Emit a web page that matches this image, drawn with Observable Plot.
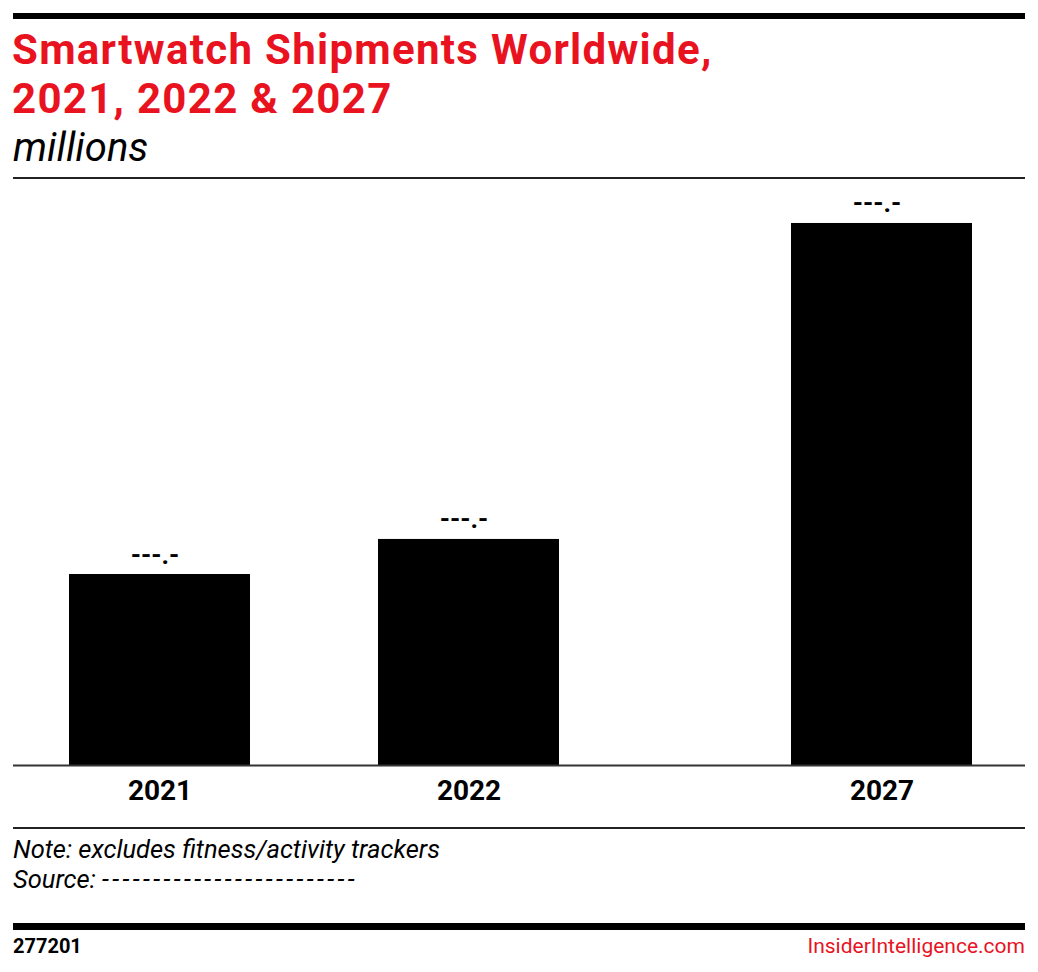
<!DOCTYPE html>
<html>
<head>
<meta charset="utf-8">
<script src="https://cdn.jsdelivr.net/npm/d3@7"></script>
<script src="https://cdn.jsdelivr.net/npm/@observablehq/plot@0.6"></script>
<style>
  html, body { margin: 0; padding: 0; background: #fff; }
  #page { position: relative; width: 1038px; height: 972px; font-family: Roboto, "Noto Sans", sans-serif; color: #000; overflow: hidden; }
  .abs { position: absolute; }
  .bar { position: absolute; left: 13px; width: 1012px; background: #000; }
  .title { left: 12px; font-size: 42px; line-height: 49px; height: 49px; font-weight: 700; color: #e8131f; white-space: nowrap; letter-spacing: 1.3px; }
  #subtitle { left: 13px; top: 126px; font-size: 40px; line-height: 44px; font-style: italic; font-weight: 400; }
  #note { left: 13px; top: 834px; font-size: 25.5px; line-height: 30px; font-style: italic; font-weight: 400; white-space: nowrap; }
  #note .dash { letter-spacing: 3.4px; }
  #id { left: 13px; top: 934px; font-size: 20px; line-height: 24px; font-weight: 700; }
  #brand { right: 13px; top: 933px; font-size: 21px; line-height: 26px; color: #e8131f; }
  #chart { left: 0; top: 179px; }
</style>
</head>
<body>
<div id="page">
  <div class="bar" style="top:13px;height:6px;"></div>
  <div class="abs title" style="top:25px;">Smartwatch Shipments Worldwide,</div>
  <div class="abs title" style="top:74px;">2021, 2022 &amp; 2027</div>
  <div id="subtitle" class="abs">millions</div>
  <div class="bar" style="top:177px;height:2px;background:#222;"></div>
  <div id="chart" class="abs"></div>
  <div class="bar" style="top:827px;height:2px;background:#222;"></div>
  <div id="note" class="abs">Note: excludes fitness/activity trackers<br>Source: <span class="dash">-------------------------</span></div>
  <div class="bar" style="top:923px;height:7px;"></div>
  <div id="id" class="abs">277201</div>
  <div id="brand" class="abs">InsiderIntelligence.com</div>
</div>
<script>
// Data (labels are masked in the original)
const years = [2021, 2022, 2027];
const shipments = [138.9, 164.4, 394.2];
const valueLabels = ["---.-", "---.-", "---.-"];

const data = years.map((year, i) => ({year, value: shipments[i], label: valueLabels[i]}));

const chart = Plot.plot({
  width: 1038,
  height: 646,
  marginLeft: 13,
  marginRight: 13,
  marginTop: 0,
  marginBottom: 60,
  style: {fontFamily: "Roboto, 'Noto Sans', sans-serif", background: "#fff", overflow: "visible"},
  x: {type: "linear", domain: [2021, 2022, 2027], range: [159.5, 468.5, 881.5], label: null},
  y: {domain: [0, 400], range: [586, 36], axis: null},
  marks: [
    Plot.rectY(data, {x1: "year", x2: "year", y: "value", insetLeft: -90.5, insetRight: -90.5, fill: "#000"}),
    Plot.text(data, {x: "year", y: "value", text: "label", dx: -5, dy: -11, lineAnchor: "bottom", fontSize: 26, fontWeight: 700, fill: "#000", style: {letterSpacing: "4px"}}),
    Plot.ruleY([0], {stroke: "#333", strokeWidth: 2}),
    Plot.axisX({ticks: years, tickFormat: d => String(d), tickSize: 0, tickPadding: 15, fontSize: 28, fontWeight: 700, fill: "#000"})
  ]
});
document.getElementById("chart").appendChild(chart);
</script>
</body>
</html>
